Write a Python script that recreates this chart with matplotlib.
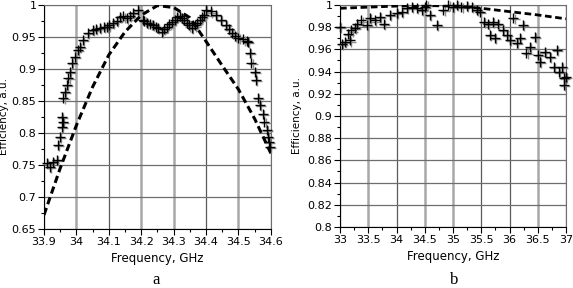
import matplotlib
matplotlib.use("Agg")
import matplotlib.pyplot as plt
import matplotlib.transforms as mtransforms
from matplotlib.ticker import MultipleLocator, FormatStrFormatter

plt.rcParams['font.family'] = ['DejaVu Sans']

# ---- panel a : measured (crosses) and calculated (dashed) ----
freq_a = [33.909, 33.918, 33.928, 33.94, 33.943, 33.949, 33.955, 33.955, 33.958,
          33.96, 33.965, 33.97, 33.975, 33.98, 33.986, 33.996, 34.005, 34.01,
          34.02, 34.036, 34.05, 34.073, 34.094, 34.113, 34.134, 34.156, 34.175,
          34.19, 34.205, 34.218, 34.236, 34.252, 34.264, 34.279, 34.294, 34.31,
          34.325, 34.341, 34.356, 34.372, 34.387, 34.40, 34.43, 34.46, 34.48,
          34.50, 34.53, 34.535, 34.54, 34.55, 34.553, 34.56, 34.566, 34.575,
          34.58, 34.587, 34.59, 34.593, 34.597,
          34.06, 34.085, 34.10, 34.125, 34.145, 34.165, 34.21, 34.228, 34.245,
          34.27, 34.287, 34.303, 34.318, 34.333, 34.348, 34.365, 34.38, 34.395,
          34.415, 34.445, 34.47, 34.49, 34.515, 34.525]
eff_a = [0.753, 0.747, 0.755, 0.758, 0.781, 0.794, 0.81, 0.825, 0.817,
         0.855, 0.864, 0.875, 0.886, 0.895, 0.909, 0.919, 0.93, 0.935,
         0.945, 0.956, 0.961, 0.964, 0.966, 0.972, 0.981, 0.979, 0.987,
         0.992, 0.977, 0.972, 0.969, 0.964, 0.958, 0.966, 0.973, 0.981,
         0.979, 0.972, 0.964, 0.972, 0.981, 0.992, 0.984, 0.969, 0.956,
         0.948, 0.942, 0.925, 0.909, 0.895, 0.883, 0.855, 0.844, 0.83,
         0.817, 0.805, 0.794, 0.786, 0.778,
         0.962, 0.966, 0.968, 0.975, 0.982, 0.983, 0.975, 0.970, 0.966,
         0.962, 0.970, 0.977, 0.982, 0.976, 0.968, 0.968, 0.976, 0.985,
         0.990, 0.977, 0.962, 0.952, 0.946, 0.944]
calc_freq_a = [33.90, 33.95, 34.00, 34.05, 34.10, 34.15, 34.20, 34.25,
               34.30, 34.35, 34.40, 34.45, 34.50, 34.55, 34.60]
calc_eff_a = [0.672, 0.745, 0.812, 0.872, 0.922, 0.958, 0.984, 0.999,
              0.996, 0.980, 0.943, 0.905, 0.868, 0.822, 0.768]

# ---- panel b ----
freq_b = [33.0, 33.03, 33.09, 33.18, 33.14, 33.2, 33.27, 33.3, 33.38, 33.47,
          33.53, 33.62, 33.71, 33.77, 33.88, 34.0, 34.09, 34.18, 34.27, 34.36,
          34.45, 34.5, 34.53, 34.59, 34.71, 34.83, 34.92, 35.0, 35.07, 35.15,
          35.24, 35.33, 35.42, 35.48, 35.54, 35.62, 35.65, 35.74, 35.8, 35.71,
          35.89, 35.95, 36.0, 36.07, 36.13, 36.19, 36.24, 36.3, 36.36, 36.45,
          36.51, 36.54, 36.63, 36.72, 36.78, 36.84, 36.87, 36.93, 36.96,
          36.96, 37.0]
eff_b = [0.98, 0.965, 0.967, 0.968, 0.974, 0.977, 0.979, 0.983, 0.986, 0.982,
         0.988, 0.986, 0.989, 0.983, 0.991, 0.9925, 0.994, 0.997, 0.9985, 0.997,
         0.9955, 0.998, 1.0, 0.991, 0.982, 0.9955, 1.0, 0.998, 1.0, 0.998,
         0.999, 0.998, 0.9955, 0.994, 0.985, 0.983, 0.973, 0.970, 0.983, 0.985,
         0.9775, 0.973, 0.9685, 0.988, 0.9655, 0.970, 0.982, 0.9565, 0.9625,
         0.9715, 0.955, 0.949, 0.958, 0.9535, 0.9445, 0.9595, 0.94, 0.9445,
         0.934, 0.928, 0.9355]
calc_freq_b = [33.0, 33.5, 34.0, 34.5, 35.0, 35.5, 36.0, 36.5, 37.0]
calc_eff_b = [0.997, 0.998, 0.999, 0.9995, 0.999, 0.997, 0.994, 0.991, 0.9875]

# grid lines drawn light (the rest dark), as in the scanned figure
light_a = [34.0, 34.2, 34.3, 34.5]
light_b = [33.5, 34.5, 35.0, 36.5]

fig = plt.figure(figsize=(5.73, 2.88), dpi=100)
ax_a = fig.add_axes([0.0768, 0.2049, 0.396, 0.778])
ax_b = fig.add_axes([0.5934, 0.2118, 0.3944, 0.771])


def style(ax, xlim, ylim, xmaj, xmin, ymaj, ymin, light, ylab_x):
    ax.set_xlim(*xlim)
    ax.set_ylim(*ylim)
    ax.xaxis.set_major_locator(MultipleLocator(xmaj))
    ax.xaxis.set_minor_locator(MultipleLocator(xmin))
    ax.yaxis.set_major_locator(MultipleLocator(ymaj))
    ax.yaxis.set_minor_locator(MultipleLocator(ymin))
    ax.xaxis.set_major_formatter(FormatStrFormatter('%g'))
    ax.yaxis.set_major_formatter(FormatStrFormatter('%g'))
    ax.tick_params(which='both', direction='out', labelsize=8, width=0.8,
                   top=False, right=False, pad=1.5)
    ax.tick_params(which='major', length=4)
    ax.tick_params(which='minor', length=2.5)
    ax.grid(axis='y', color='#6e6e6e', linewidth=0.9)
    ax.grid(axis='x', color='#5a5a5a', linewidth=0.9)
    for t, gl in zip(ax.get_xticks(), ax.xaxis.get_gridlines()):
        if any(abs(t - v) < 1e-6 for v in light):
            gl.set_color('#a8a8a8')
            gl.set_linewidth(1.8)
    ax.set_axisbelow(True)
    for s in ['top', 'right']:
        ax.spines[s].set_color('#6e6e6e')
    for s in ['left', 'bottom']:
        ax.spines[s].set_color('black')
    ax.set_xlabel('Frequency, GHz', fontsize=8.5, labelpad=4)
    ax.set_ylabel('Efficiency, a.u.', fontsize=7.5)
    ax.yaxis.set_label_coords(ylab_x, 0.5)


def crosses(ax, x, y):
    shadow = mtransforms.offset_copy(ax.transData, fig=fig, x=1.2, y=-1.2,
                                     units='dots')
    ax.plot(x, y, linestyle='none', marker='+', markersize=7.5,
            markeredgewidth=1.0, color='#8c8c8c', transform=shadow,
            clip_on=False, zorder=3)
    ax.plot(x, y, linestyle='none', marker='+', markersize=7.5,
            markeredgewidth=1.0, color='black', clip_on=False, zorder=4)


style(ax_a, (33.9, 34.6), (0.65, 1.0), 0.1, 0.05, 0.05, 0.025, light_a, -0.155)
crosses(ax_a, freq_a, eff_a)
ax_a.plot(calc_freq_a, calc_eff_a, color='black', linewidth=2.2,
          linestyle=(0, (2.4, 1.3)), zorder=5)

style(ax_b, (33, 37), (0.8, 1.0), 0.5, 0.25, 0.02, 0.01, light_b, -0.17)
crosses(ax_b, freq_b, eff_b)
ax_b.plot(calc_freq_b, calc_eff_b, color='black', linewidth=2.0,
          linestyle=(0, (2.4, 1.3)), zorder=5)

fig.text(0.272, 0.015, 'a', fontsize=12, family='Liberation Serif', ha='center')
fig.text(0.792, 0.015, 'b', fontsize=12, family='Liberation Serif', ha='center')

fig.savefig('out.png', dpi=100)
